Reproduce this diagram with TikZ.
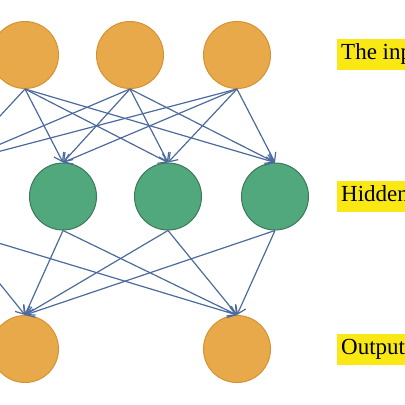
\documentclass[tikz,border=0pt]{standalone}
\usepackage{fontspec}
\setmainfont{Liberation Serif}
\usetikzlibrary{arrows.meta}
\definecolor{unitorange}{RGB}{232,169,74}
\definecolor{unitorangeline}{RGB}{214,146,50}
\definecolor{unitgreen}{RGB}{82,168,125}
\definecolor{unitgreenline}{RGB}{60,120,90}
\definecolor{wireblue}{RGB}{76,106,156}
\definecolor{tagyellow}{RGB}{250,232,20}

\begin{document}
\begin{tikzpicture}[x=1pt,y=-1pt,
    neuron/.style={circle,minimum size=67pt,inner sep=0pt,line width=1pt},
    orangeunit/.style={neuron,fill=unitorange,draw=unitorangeline},
    greenunit/.style={neuron,fill=unitgreen,draw=unitgreenline},
    wire/.style={wireblue,line width=1.2pt,-{Straight Barb[length=8pt,width=11pt]}},
    tag/.style={fill=tagyellow,anchor=west,font=\fontsize{23}{25}\selectfont,
      inner xsep=4pt,inner ysep=5.5pt,text height=15pt,text depth=5pt}]
    \useasboundingbox (0,0) rectangle (405,405);
    \clip (0,0) rectangle (405,405);
    % units
    \foreach \i/\x in {1/25,2/130,3/237}
    \node[orangeunit] (in\i) at (\x,55) {};
    \foreach \h/\x in {0/-43,1/63,2/168,3/275}
    \node[greenunit] (hid\h) at (\x,196.5) {};
    \foreach \o/\x in {1/25,2/237}
    \node[orangeunit] (out\o) at (\x,349) {};
    % connections
    \foreach \i in {1,2,3}
    \foreach \h in {0,...,3}
    \draw[wire] (in\i.south) -- (hid\h.north);
    \foreach \h in {0,...,3}
    \foreach \o in {1,2}
    \draw[wire] (hid\h.south) -- (out\o.north);
    % layer tags
    \node[tag] (intag) at (337,54) {The input};
    \node[tag] (hidtag) at (337,196) {Hidden};
    \node[tag] (outtag) at (337,349) {Output};
  \end{tikzpicture}
\end{document}
